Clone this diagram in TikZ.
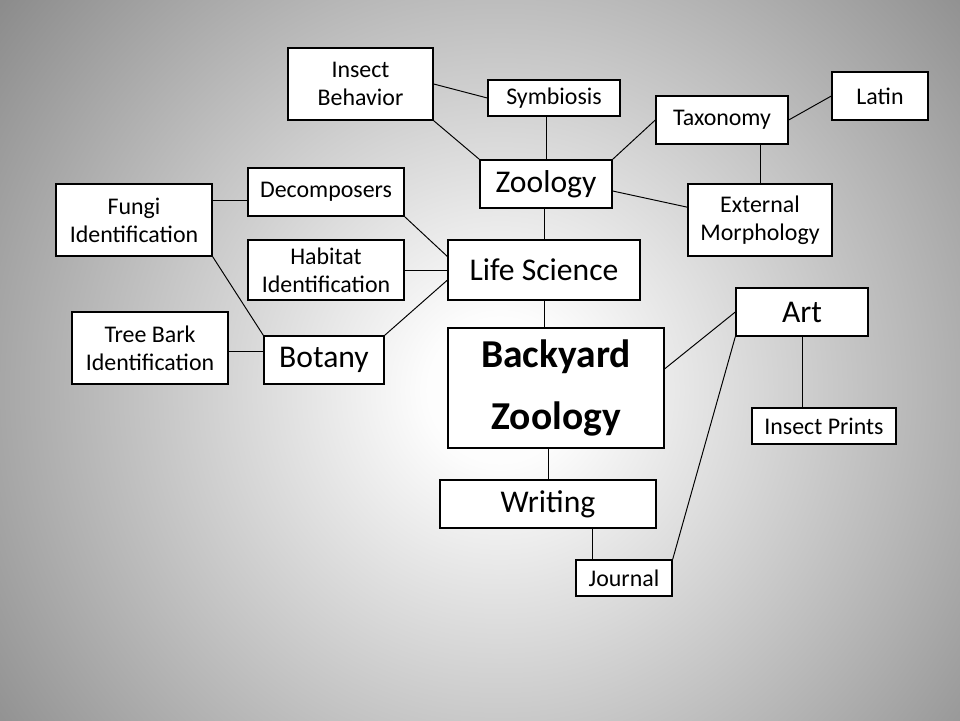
\documentclass[tikz,border=0pt]{standalone}
\usepackage{fontspec}
\setmainfont{Carlito}
\usepackage{tikz}
\usetikzlibrary{calc, positioning}

\pgfdeclareradialshading{slideglow}{\pgfpoint{0bp}{0bp}}{color(0bp)=(white); color(3bp)=(white!99!black); color(25bp)=(black!45); color(50bp)=(black!45)}

\begin{document}
\begin{tikzpicture}[
    x=0.02cm, y=-0.02cm,
    box/.style={rectangle, draw=black, line width=0.8pt, fill=white, inner sep=0pt, align=center},
    small/.style={box, font=\fontsize{13.6}{16}\selectfont},
    mid/.style={box, font=\fontsize{18}{21}\selectfont},
    link/.style={draw=black, line width=0.55pt},
]

% Background
\useasboundingbox (0,0) rectangle (960,720);
\begin{scope}
\clip (0,0) rectangle (960,720);
\shade[shading=slideglow] (-130,-240) rectangle (1130,1020);
\end{scope}

% Centre
\node[box, minimum width=4.32cm, minimum height=2.4cm, font=\fontsize{22.5}{35}\selectfont\bfseries] (yard) at (556,388) {Backyard\\Zoology};

% Science branch
\node[mid, minimum width=3.84cm, minimum height=1.2cm] (life) at (544,270) {Life Science};
\node[mid, minimum width=2.64cm, minimum height=0.96cm] (zoo) at (546,184) {Zoology};
\node[mid, minimum width=2.4cm, minimum height=0.96cm] (bot) at (324,360) {Botany};
\node[small, minimum width=2.9cm, minimum height=1.44cm] (behav) at (360.5,84) {Insect\\Behavior};
\node[small, minimum width=2.64cm, minimum height=0.72cm] (symb) at (554,98) {Symbiosis};
\node[small, minimum width=2.64cm, minimum height=0.96cm] (taxo) at (722,120) {Taxonomy};
\node[small, minimum width=1.92cm, minimum height=0.96cm] (latin) at (880,96) {Latin};
\node[small, minimum width=2.88cm, minimum height=1.44cm] (morph) at (760,220) {External\\Morphology};
\node[small, minimum width=3.12cm, minimum height=0.96cm] (decomp) at (326,192) {Decomposers};
\node[small, minimum width=3.12cm, minimum height=1.44cm] (fungi) at (134,220) {Fungi\\Identification};
\node[small, minimum width=3.12cm, minimum height=1.2cm] (habit) at (326,270) {Habitat\\Identification};
\node[small, minimum width=3.12cm, minimum height=1.44cm] (bark) at (150,348) {Tree Bark\\Identification};

% Art and writing
\node[mid, minimum width=2.64cm, minimum height=0.96cm] (art) at (802,312) {Art};
\node[small, minimum width=2.88cm, minimum height=0.72cm] (prints) at (824,426) {Insect Prints};
\node[mid, minimum width=4.32cm, minimum height=0.96cm] (write) at (548,504) {Writing};
\node[small, minimum width=1.92cm, minimum height=0.72cm] (journal) at (624,578) {Journal};

% Links
\draw[link] (behav.east) -- (symb.west);
\draw[link] (behav.south east) -- (zoo.north west);
\draw[link] (zoo.north) -- (zoo.north |- symb.south);
\draw[link] (zoo.north east) -- (taxo.west);
\draw[link] (taxo.east) -- (latin.west);
\draw[link] (morph.north) -- (morph.north |- taxo.south);
\draw[link] (zoo.-6) -- (morph.170);
\draw[link] (life.north) -- (life.north |- zoo.south);
\draw[link] (life.south) -- (life.south |- yard.north);
\draw[link] (decomp.south east) -- (life.172);
\draw[link] (habit.east) -- (life.west);
\draw[link] (bot.north east) -- (life.186);
\draw[link] (decomp.186) -- (fungi.east |- decomp.186);
\draw[link] (fungi.south east) -- (bot.north west);
\draw[link] (bot.172) -- (bark.east |- bot.172);
\draw[link] (yard.10) -- (art.west);
\draw[link] (art.south) -- (art.south |- prints.north);
\draw[link] (art.south west) -- (journal.north east);
\draw[link] (write.north) -- (write.north |- yard.south);
\draw[link] ($(journal.north)+(-32,0)$) -- ($(write.south -| journal.north)+(-32,0)$);

\end{tikzpicture}
\end{document}
